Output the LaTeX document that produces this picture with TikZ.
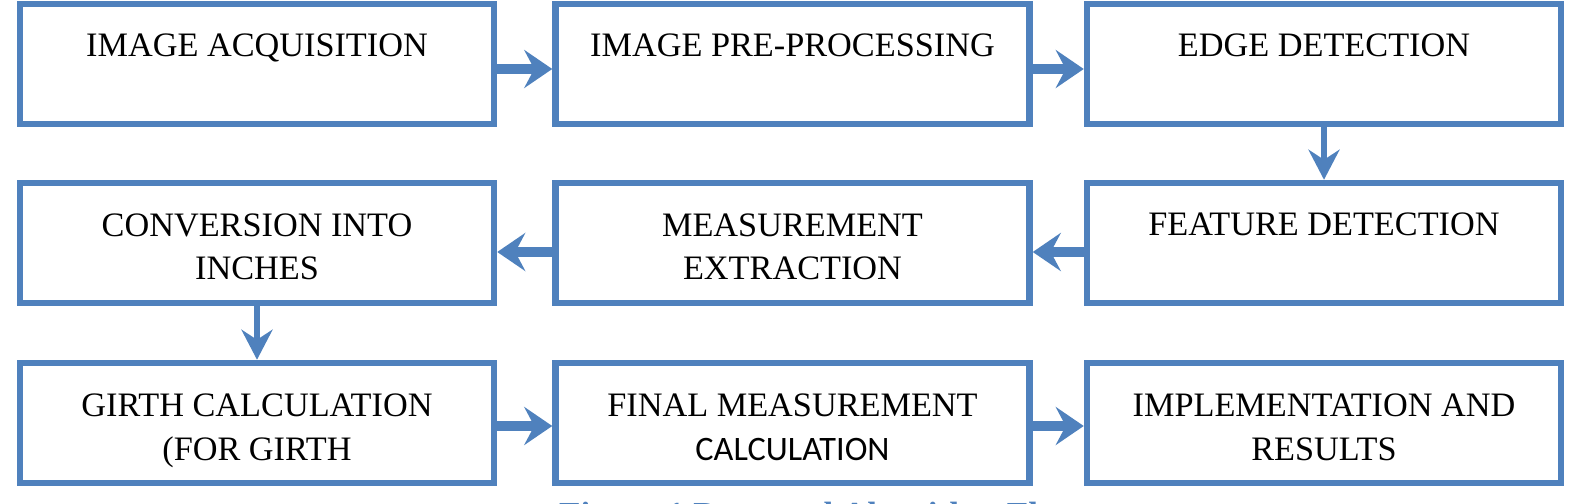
\documentclass[tikz,border=0pt]{standalone}
\usepackage{fontspec}
\setmainfont{Liberation Serif}
\newfontfamily\calfont{Carlito}
\usepackage{tikz}
\usetikzlibrary{arrows.meta}
\definecolor{boxblue}{RGB}{79,129,189}

\begin{document}
\begin{tikzpicture}[
  stage/.style={draw=boxblue, line width=0.13cm, minimum width=9.48cm, minimum height=2.4cm, inner sep=0pt, align=center, text height=0.6cm, text depth=0.88cm, font=\fontsize{19.5}{22}\selectfont},
  twoline/.style={stage, text height=1.6cm, text depth=0.12cm},
  flow/.style={draw=boxblue, line width=0.2cm, -{Stealth[width=0.76cm,length=0.56cm,inset=0.2cm]}},
  drop/.style={draw=boxblue, line width=0.12cm, -{Stealth[width=0.62cm,length=0.6cm,inset=0.2cm]}}
]
\clip (0,0) rectangle (31.72,-10.08);
\node[stage] (acq) at (5.14,-1.28) {IMAGE ACQUISITION};
\node[stage] (pre) at (15.85,-1.28) {IMAGE PRE-PROCESSING};
\node[stage] (edge) at (26.48,-1.28) {EDGE DETECTION};
\node[stage] (feat) at (26.48,-4.86) {FEATURE DETECTION};
\node[twoline] (extr) at (15.85,-4.86) {MEASUREMENT\\[3pt]EXTRACTION};
\node[twoline] (conv) at (5.14,-4.86) {CONVERSION INTO\\[3pt]INCHES};
\node[twoline] (girth) at (5.14,-8.46) {GIRTH CALCULATION\\[3pt](FOR GIRTH};
\node[twoline] (final) at (15.85,-8.46) {FINAL MEASUREMENT\\[3pt]{\calfont CALCULATION}};
\node[twoline] (impl) at (26.48,-8.46) {IMPLEMENTATION AND\\[3pt]RESULTS};
\draw[flow] ([yshift=-0.1cm]acq.east) -- ([yshift=-0.1cm]pre.west);
\draw[flow] ([yshift=-0.1cm]pre.east) -- ([yshift=-0.1cm]edge.west);
\draw[drop] (edge.south) -- (feat.north);
\draw[flow] ([yshift=-0.18cm]feat.west) -- ([yshift=-0.18cm]extr.east);
\draw[flow] ([yshift=-0.18cm]extr.west) -- ([yshift=-0.18cm]conv.east);
\draw[drop] (conv.south) -- (girth.north);
\draw[flow] ([yshift=-0.06cm]girth.east) -- ([yshift=-0.06cm]final.west);
\draw[flow] ([yshift=-0.06cm]final.east) -- ([yshift=-0.06cm]impl.west);
\node[anchor=base west, text=boxblue, font=\bfseries\fontsize{20}{24}\selectfont] (caption) at (11.06,-10.52) {Figure 1 Proposed Algorithm Flow};
\end{tikzpicture}
\end{document}
